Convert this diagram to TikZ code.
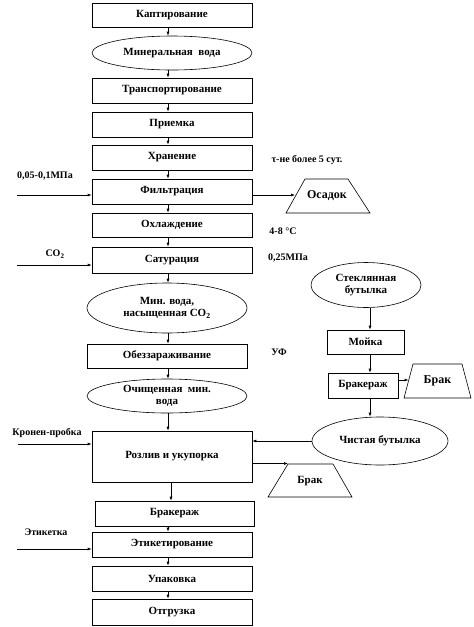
\documentclass[tikz,border=0pt]{standalone}
\usepackage{fontspec}
\setmainfont{Liberation Serif}
\usetikzlibrary{shapes.geometric,arrows.meta}
\begin{document}
\begin{tikzpicture}[x=1pt,y=-1pt,
  every node/.style={font=\fontsize{11}{12}\selectfont\bfseries},
  box/.style={draw,rectangle,inner sep=1pt,line width=0.6pt},
  oval/.style={draw,ellipse,inner sep=0pt,line width=0.6pt,align=center},
  trapline/.style={draw,line width=0.6pt,line join=miter},
  traptext/.style={font=\fontsize{12}{13}\selectfont\bfseries,inner sep=0pt},
  lbl/.style={font=\fontsize{10}{11}\selectfont\bfseries,inner sep=0pt},
  arr/.style={-{Latex[length=4pt,width=3pt]},line width=0.6pt}]
\useasboundingbox (0,0) rectangle (474,627);
% main column
\node[box,minimum width=160pt,minimum height=24pt] (kapt) at (172,15) {Каптирование};
\node[oval,minimum width=160pt,minimum height=34pt] (min) at (172,53) {Минеральная\ \ вода};
\node[box,minimum width=160pt,minimum height=25pt] (trans) at (172,90.5) {Транспортирование};
\node[box,minimum width=160pt,minimum height=25pt] (priem) at (172,124.5) {Приемка};
\node[box,minimum width=160pt,minimum height=25pt] (hran) at (172,157.5) {Хранение};
\node[box,minimum width=160pt,minimum height=25pt] (filt) at (172,191.5) {Фильтрация};
\node[box,minimum width=160pt,minimum height=24pt] (ohl) at (172,225) {Охлаждение};
\node[box,minimum width=160pt,minimum height=26pt] (sat) at (172,260) {Сатурация};
\node[oval,minimum width=160pt,minimum height=50pt] (minco) at (167,308) {Мин. вода,\\насыщенная CO\textsubscript{2}};
\node[box,minimum width=160pt,minimum height=24pt] (obez) at (167,356) {Обеззараживание};
\node[oval,minimum width=160pt,minimum height=34pt] (ochi) at (167,396) {Очищенная\ \ мин.\\вода};
\node[box,minimum width=160pt,minimum height=51pt] (rozl) at (172,456.5) {Розлив и укупорка};
\node[box,minimum width=159pt,minimum height=25pt] (brak) at (174.5,513.5) {Бракераж};
\node[box,minimum width=160pt,minimum height=25pt] (etik) at (172,544.5) {Этикетирование};
\node[box,minimum width=160pt,minimum height=25pt] (upak) at (172,578.5) {Упаковка};
\node[box,minimum width=160pt,minimum height=26pt] (otgr) at (172,612) {Отгрузка};
% main arrows
\coordinate (ax) at (168,0);
\foreach \a/\b in {kapt/min,min/trans,trans/priem,priem/hran,hran/filt,filt/ohl,ohl/sat,sat/minco,minco/obez,obez/ochi,ochi/rozl,brak/etik,etik/upak,upak/otgr}
  \draw[arr] (ax |- \a.south) -- (ax |- \b.north);
\coordinate (ax2) at (171,0);
\draw[arr] (ax2 |- rozl.south) -- (ax2 |- brak.north);
% side labels
\node[lbl] (t1) at (307,160) {τ-не более 5 сут.};
\node[lbl] (t2) at (283,231) {4-8 °С};
\node[lbl] (t3) at (288,258) {0,25МПа};
\node[lbl] (t4) at (279,352) {УФ};
% inputs
\node[lbl] (p1) at (45,176) {0,05-0,1МПа};
\coordinate (i1) at (17,195);
\draw[arr] (i1) -- (i1 -| filt.west);
\node[lbl] (co) at (55,254) {CO\textsubscript{2}};
\coordinate (i2) at (17,265);
\draw[arr] (i2) -- (i2 -| sat.west);
\node[lbl] (kr) at (47,433) {Кронен-пробка};
\coordinate (i3) at (18,444);
\draw[arr] (i3) -- (i3 -| rozl.west);
\node[lbl] (et) at (46,532) {Этикетка};
\coordinate (i4) at (17,549);
\draw[arr] (i4) -- (i4 -| etik.west);
% osadok
\draw[trapline] (286,213) -- (305,179) -- (348,179) -- (370,213) -- cycle;
\node[traptext] (osad) at (327,196) {Осадок};
\coordinate (osadin) at (295,195);
\draw[arr] (filt.east |- osadin) -- (osadin);
% right column
\node[oval,minimum width=110pt,minimum height=45pt] (stek) at (366,285) {Стеклянная\\бутылка};
\node[box,minimum width=77pt,minimum height=24pt] (moika) at (365.5,342) {Мойка};
\node[box,minimum width=70pt,minimum height=25pt] (brak2) at (363,385.5) {Бракераж};
\draw[trapline] (404,398) -- (413,364) -- (462,364) -- (471,398) -- cycle;
\node[traptext] (bt2) at (437.5,381) {Брак};
\coordinate (bt2in) at (408.5,380);
\node[oval,minimum width=136pt,minimum height=48pt] (chist) at (380,441) {Чистая бутылка};
\coordinate (bx) at (370,0);
\draw[arr] (bx |- stek.south) -- (bx |- moika.north);
\draw[arr] (bx |- moika.south) -- (bx |- brak2.north);
\draw[arr] (bx |- brak2.south) -- (bx |- chist.north);
\draw[arr] (brak2.east |- bt2in) -- (bt2in);
\draw[arr] (chist.west) -- (chist.west -| rozl.east);
\draw[trapline] (268,497) -- (288,464) -- (333,464) -- (352,497) -- cycle;
\node[traptext,font=\fontsize{11}{12}\selectfont\bfseries] (bt3) at (310,481) {Брак};
\coordinate (bt3in) at (288,463.5);
\draw[arr] (rozl.east |- bt3in) -- (bt3in);
\end{tikzpicture}
\end{document}
